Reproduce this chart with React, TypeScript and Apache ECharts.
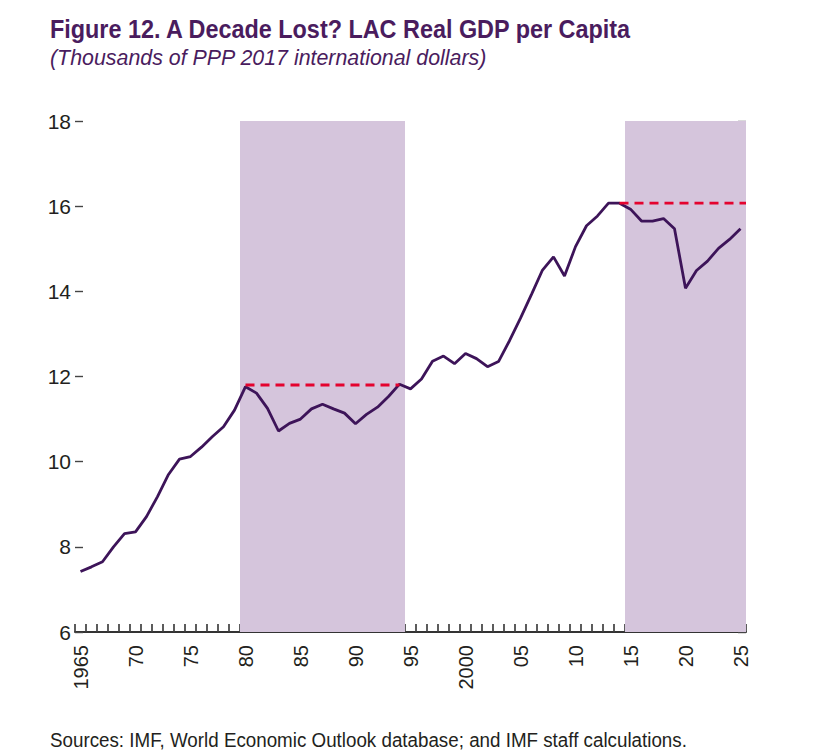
import React, { useEffect, useRef } from "react";
import * as echarts from "echarts";

const years: number[] = [
  1965, 1966, 1967, 1968, 1969, 1970, 1971, 1972, 1973, 1974,
  1975, 1976, 1977, 1978, 1979, 1980, 1981, 1982, 1983, 1984,
  1985, 1986, 1987, 1988, 1989, 1990, 1991, 1992, 1993, 1994,
  1995, 1996, 1997, 1998, 1999, 2000, 2001, 2002, 2003, 2004,
  2005, 2006, 2007, 2008, 2009, 2010, 2011, 2012, 2013, 2014,
  2015, 2016, 2017, 2018, 2019, 2020, 2021, 2022, 2023, 2024, 2025,
];

const gdpPerCapita: number[] = [
  7.42, 7.53, 7.65, 8.0, 8.31, 8.35, 8.71, 9.18, 9.7, 10.06,
  10.12, 10.34, 10.59, 10.82, 11.21, 11.76, 11.61, 11.25, 10.72, 10.9,
  11.0, 11.24, 11.35, 11.24, 11.14, 10.89, 11.11, 11.28, 11.53, 11.82,
  11.71, 11.94, 12.36, 12.48, 12.3, 12.54, 12.42, 12.23, 12.35, 12.84,
  13.37, 13.93, 14.5, 14.81, 14.36, 15.05, 15.54, 15.77, 16.07, 16.07,
  15.93, 15.65, 15.65, 15.71, 15.47, 14.07, 14.49, 14.71, 15.01, 15.22, 15.47,
];

const labelYears: number[] = [1965, 1970, 1975, 1980, 1985, 1990, 1995, 2000, 2005, 2010, 2015, 2020, 2025];
const labelTexts: string[] = ["1965", "70", "75", "80", "85", "90", "95", "2000", "05", "10", "15", "20", "25"];

const yTicks: number[] = [6, 8, 10, 12, 14, 16, 18];

// shaded periods: [first year, last year]
const shadedStart: number[] = [1980, 2015];
const shadedEnd: number[] = [1994, 2025];

// previous-peak reference lines
const peakFrom: number[] = [1980, 2014];
const peakTo: number[] = [1994, 2025.5];
const peakLevel: number[] = [11.8, 16.07];

const TITLE = "Figure 12. A Decade Lost? LAC Real GDP per Capita";
const SUBTITLE = "(Thousands of PPP 2017 international dollars)";
const SOURCE = "Sources: IMF, World Economic Outlook database; and IMF staff calculations.";

const FONT = '"Liberation Sans", Arial, Helvetica, sans-serif';

export default function App() {
  const ref = useRef<HTMLDivElement>(null);

  useEffect(() => {
    document.body.style.margin = "0";
    if (!ref.current) return;
    const chart = echarts.init(ref.current, undefined, { renderer: "svg" });

    const peakSeries = peakFrom.map((from, i) => ({
      type: "line",
      xAxisIndex: 1,
      yAxisIndex: 0,
      data: [
        [from, peakLevel[i]],
        [peakTo[i], peakLevel[i]],
      ],
      symbol: "none",
      silent: true,
      z: 11,
      lineStyle: { color: "#e4032e", width: 2.8, type: [9, 6] },
      markArea:
        i === 0
          ? {
              silent: true,
              itemStyle: { color: "#d5c5dc" },
              data: shadedStart.map((s, k) => [{ xAxis: s - 0.5 }, { xAxis: shadedEnd[k] + 0.5 }]),
            }
          : undefined,
    }));

    const option: any = {
      animation: false,
      backgroundColor: "#ffffff",
      textStyle: { fontFamily: FONT },
      grid: { left: 75, right: 91, top: 121, bottom: 122, containLabel: false },
      xAxis: [
        {
          type: "category",
          data: years.map(String),
          boundaryGap: true,
          axisLine: { show: true, lineStyle: { color: "#333333", width: 2 } },
          axisTick: {
            show: true,
            inside: true,
            length: 8,
            interval: 0,
            lineStyle: { color: "#3f3f3f", width: 1.7 },
          },
          axisLabel: {
            interval: 4,
            rotate: 90,
            margin: 13,
            fontFamily: FONT,
            fontSize: 20,
            color: "#231f20",
            formatter: (v: string) => {
              const idx = labelYears.indexOf(Number(v));
              return idx >= 0 ? labelTexts[idx] : "";
            },
          },
          splitLine: { show: false },
        },
        {
          type: "value",
          min: years[0] - 0.5,
          max: years[years.length - 1] + 0.5,
          show: false,
        },
      ],
      yAxis: [
        {
          type: "value",
          position: "left",
          min: yTicks[0],
          max: yTicks[yTicks.length - 1],
          interval: 2,
          axisLine: { show: false },
          axisTick: { show: true, inside: true, length: 8, lineStyle: { color: "#444444", width: 1.4 } },
          axisLabel: { margin: 4, fontFamily: FONT, fontSize: 21, color: "#231f20" },
          splitLine: { show: false },
        },
        {
          type: "value",
          position: "right",
          min: yTicks[0],
          max: yTicks[yTicks.length - 1],
          interval: 2,
          axisLine: { show: false },
          axisTick: { show: true, inside: true, length: 8, lineStyle: { color: "#444444", width: 1.4 } },
          axisLabel: { show: false },
          splitLine: { show: false },
        },
      ],
      series: [
        {
          type: "line",
          xAxisIndex: 0,
          yAxisIndex: 0,
          data: gdpPerCapita,
          symbol: "none",
          z: 10,
          lineStyle: { color: "#3d1459", width: 2.8 },
        },
        ...peakSeries,
      ],
      graphic: [
        {
          type: "text",
          x: 50,
          y: 16,
          scaleX: 0.9,
          style: {
            text: TITLE,
            font: `bold 26px ${FONT}`,
            fill: "#4a1c5e",
            verticalAlign: "top",
            textVerticalAlign: "top",
          },
        },
        {
          type: "text",
          x: 50,
          y: 46,
          scaleX: 0.93,
          style: {
            text: SUBTITLE,
            font: `italic 23px ${FONT}`,
            fill: "#4a1c5e",
            verticalAlign: "top",
            textVerticalAlign: "top",
          },
        },
        {
          type: "text",
          x: 50,
          y: 729,
          scaleX: 0.895,
          style: {
            text: SOURCE,
            font: `21px ${FONT}`,
            fill: "#231f20",
            verticalAlign: "top",
            textVerticalAlign: "top",
          },
        },
      ],
    };

    chart.setOption(option);
    return () => chart.dispose();
  }, []);

  return (
    <div
      ref={ref}
      style={{ position: "fixed", left: 0, top: 0, width: 837, height: 754 }}
    />
  );
}
